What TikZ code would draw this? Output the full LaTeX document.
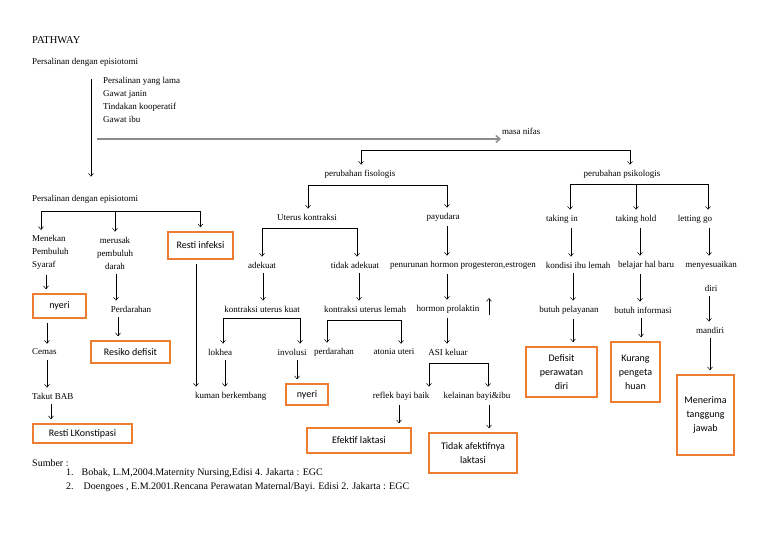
\documentclass[tikz,border=0pt]{standalone}
\usepackage{fontspec}
\setmainfont{Liberation Serif}
\newfontfamily\boxfont{Carlito}
\usetikzlibrary{arrows.meta, positioning, calc}
\definecolor{boxorange}{RGB}{237,125,49}
\definecolor{flowgray}{RGB}{140,140,140}

\begin{document}
\begin{tikzpicture}[x=1pt, y=-1pt,
    lbl/.style={font=\fontsize{9}{13}\selectfont, inner sep=1pt},
    obox/.style={draw=boxorange, line width=1.5pt, font=\boxfont\fontsize{10}{14}\selectfont, align=center, inner sep=0pt},
    arr/.style={-{Straight Barb[length=3pt,width=5pt]}, line width=0.5pt, shorten <=4pt, shorten >=4pt},
    flow/.style={-{Straight Barb[length=4pt,width=7pt]}, line width=1.5pt, draw=flowgray}]
    % Page
    \fill[white] (0,0) rectangle (768,543);
    \useasboundingbox (0,0) rectangle (768,543);

    % Heading and first trunk
    \node[lbl, anchor=west, font=\fontsize{10.5}{12}\selectfont] (title) at (31,40) {PATHWAY};
    \node[lbl, anchor=west] (persA) at (31,62) {Persalinan dengan episiotomi};
    \node[lbl, anchor=north west, align=left] (faktor) at (102,76) {Persalinan yang lama\\Gawat janin\\Tindakan kooperatif\\Gawat ibu};
    \node[lbl, anchor=west] (nifas) at (501,131) {masa nifas};
    \node[lbl, anchor=west] (persB) at (31,199) {Persalinan dengan episiotomi};

    \coordinate (trunk) at (91,0);
    \draw[arr, shorten <=12pt, shorten >=17pt] (persA.south -| trunk) -- (persB.north -| trunk);
    \coordinate (flowStart) at (97,139);
    \draw[flow] (flowStart) -- (flowStart -| nifas.west);

    % Left branch
    \node[lbl, anchor=north west, align=left] (menekan) at (31,234) {Menekan\\Pembuluh\\Syaraf};
    \node[lbl, align=center] (merusak) at (115,253) {merusak\\pembuluh\\darah};
    \node[obox, minimum width=65pt, minimum height=27pt] (restiInf) at (200.5,245.5) {Resti infeksi};
    \node[obox, minimum width=53pt, minimum height=24pt] (nyeriA) at (59.5,306) {nyeri};
    \node[lbl] (perdA) at (131,309) {Perdarahan};
    \node[lbl, anchor=west] (cemas) at (31,352) {Cemas};
    \node[obox, minimum width=79pt, minimum height=22pt] (resikoDef) at (130.5,352) {Resiko defisit};
    \node[lbl, anchor=west] (takut) at (31,396) {Takut BAB};
    \node[obox, minimum width=99pt, minimum height=19pt] (restiKon) at (82.5,433.5) {Resti LKonstipasi};
    \node[lbl, anchor=west] (kuman) at (194,396) {kuman berkembang};

    \coordinate (barPers) at (41,211);
    \draw[arr, shorten <=0pt] (restiInf.north |- barPers) -- (barPers) -- (barPers |- menekan.north);
    \draw[arr, shorten <=0pt] (merusak.north |- barPers) -- (merusak.north);
    \draw[arr, shorten <=0pt] (restiInf.north |- barPers) -- (restiInf.north);

    % Physiological changes
    \node[lbl] (fisio) at (360,174) {perubahan fisologis};
    \node[lbl] (uterus) at (307,217) {Uterus kontraksi};
    \node[lbl] (payudara) at (443,217) {payudara};
    \node[lbl] (adekuat) at (262,265) {adekuat};
    \node[lbl] (tidakAdek) at (355,265) {tidak adekuat};
    \node[lbl] (penurunan) at (463,265) {penurunan hormon progesteron,estrogen};
    \node[lbl] (kuat) at (262,309) {kontraksi uterus kuat};
    \node[lbl] (lemah) at (365,309) {kontraksi uterus lemah};
    \node[lbl] (prolaktin) at (448,309) {hormon prolaktin};
    \node[lbl] (lokhea) at (220,352) {lokhea};
    \node[lbl] (involusi) at (292,352) {involusi};
    \node[lbl] (perdB) at (334,352) {perdarahan};
    \node[lbl] (atonia) at (394,352) {atonia uteri};
    \node[lbl] (asi) at (448,352) {ASI keluar};
    \node[obox, minimum width=42pt, minimum height=21pt] (nyeriB) at (307,394.5) {nyeri};
    \node[lbl] (reflek) at (401,396) {reflek bayi baik};
    \node[lbl] (kelainan) at (477,396) {kelainan bayi\&ibu};
    \node[obox, minimum width=104pt, minimum height=25pt] (efektif) at (359,440.5) {Efektif laktasi};
    \node[obox, minimum width=88pt, minimum height=40pt] (tidakEf) at (473,453) {Tidak afektifnya\\laktasi};
    \coordinate (naik) at (489,315);
    \draw[arr, shorten <=0pt, shorten >=0pt] (naik) -- ++(0,-17);

    % Psychological changes
    \node[lbl] (psiko) at (622,174) {perubahan psikologis};
    \node[lbl] (takeIn) at (562,219) {taking in};
    \node[lbl] (takeHold) at (636,219) {taking hold};
    \node[lbl] (letGo) at (695,219) {letting go};
    \node[lbl] (kondisi) at (578,265) {kondisi ibu lemah};
    \node[lbl] (belajar) at (646,265) {belajar hal baru};
    \node[lbl] (menyesuai) at (711,265) {menyesuaikan};
    \node[lbl] (diri) at (711,288) {diri};
    \node[lbl] (butuhPel) at (569,310) {butuh pelayanan};
    \node[lbl] (butuhInf) at (643,310) {butuh informasi};
    \node[lbl] (mandiri) at (710,330) {mandiri};
    \node[obox, minimum width=71pt, minimum height=50pt] (defisit) at (561.5,372) {Defisit\\perawatan\\diri};
    \node[obox, minimum width=49pt, minimum height=60pt] (kurang) at (635.5,372) {Kurang\\pengeta\\huan};
    \node[obox, minimum width=57pt, minimum height=80pt] (menerima) at (705.5,415) {Menerima\\tanggung\\jawab};

    % Brackets
    \coordinate (barNifas) at (361,150);
    \coordinate (barNifasR) at (630,150);
    \draw[arr, shorten <=0pt] (barNifasR) -- (barNifas) -- (barNifas |- fisio.north);
    \draw[arr, shorten <=0pt] (barNifasR) -- (barNifasR |- psiko.north);
    \coordinate (barFisio) at (308,185);
    \coordinate (barFisioR) at (447,185);
    \draw[arr, shorten <=0pt] (barFisioR) -- (barFisio) -- (barFisio |- uterus.north);
    \draw[arr, shorten <=0pt] (barFisioR) -- (barFisioR |- payudara.north);
    \coordinate (barPsiko) at (570,184);
    \coordinate (barPsikoM) at (636,184);
    \coordinate (barPsikoR) at (708,184);
    \draw[arr, shorten <=0pt] (barPsikoR) -- (barPsiko) -- (barPsiko |- takeIn.north);
    \draw[arr, shorten <=0pt] (barPsikoM) -- (barPsikoM |- takeHold.north);
    \draw[arr, shorten <=0pt] (barPsikoR) -- (barPsikoR |- letGo.north);
    \coordinate (barUterus) at (262,228);
    \coordinate (barUterusR) at (357,228);
    \draw[arr, shorten <=0pt] (barUterusR) -- (barUterus) -- (barUterus |- adekuat.north);
    \draw[arr, shorten <=0pt] (barUterusR) -- (barUterusR |- tidakAdek.north);
    \coordinate (barKuat) at (223,318);
    \coordinate (barKuatR) at (300,318);
    \draw[arr, shorten <=0pt] (barKuatR) -- (barKuat) -- (barKuat |- lokhea.north);
    \draw[arr, shorten <=0pt] (barKuatR) -- (barKuatR |- involusi.north);
    \coordinate (barLemah) at (327,320);
    \coordinate (barLemahR) at (401,320);
    \draw[arr, shorten <=0pt] (barLemahR) -- (barLemah) -- (barLemah |- perdB.north);
    \draw[arr, shorten <=0pt] (barLemahR) -- (barLemahR |- atonia.north);
    \coordinate (barAsi) at (429,363);
    \coordinate (barAsiR) at (488,363);
    \draw[arr, shorten <=0pt] (barAsiR) -- (barAsi) -- (barAsi |- reflek.north);
    \draw[arr, shorten <=0pt] (barAsiR) -- (barAsiR |- kelainan.north);

    % Straight links
    \foreach \a/\b/\c in {menekan/nyeriA/46, merusak/perdA/116, nyeriA/cemas/47, perdA/resikoDef/118,
        cemas/takut/47, takut/restiKon/51, restiInf/kuman/196, adekuat/kuat/263, tidakAdek/lemah/359,
        payudara/penurunan/447, penurunan/prolaktin/447, prolaktin/asi/447, lokhea/kuman/225,
        involusi/nyeriB/297, reflek/efektif/399, kelainan/tidakEf/489, takeIn/kondisi/571,
        kondisi/butuhPel/573, butuhPel/defisit/573, takeHold/belajar/640, belajar/butuhInf/640,
        butuhInf/kurang/641, letGo/menyesuai/709, diri/mandiri/709, mandiri/menerima/710} {
        \draw[arr] (\a.south -| \c,0) -- (\b.north -| \c,0);
    }

    % Sources
    \node[lbl, anchor=west, font=\fontsize{10}{12}\selectfont] (sumber) at (31,463) {Sumber :};
    \node[lbl, anchor=west, font=\fontsize{10}{12}\selectfont] (ref1) at (65,473) {1.\hspace{8pt}Bobak, L.M,2004.Maternity Nursing,Edisi 4. Jakarta : EGC};
    \node[lbl, anchor=west, font=\fontsize{10}{12}\selectfont] (ref2) at (65,487) {2.\hspace{10pt}Doengoes , E.M.2001.Rencana Perawatan Maternal/Bayi. Edisi 2. Jakarta : EGC};
\end{tikzpicture}
\end{document}
